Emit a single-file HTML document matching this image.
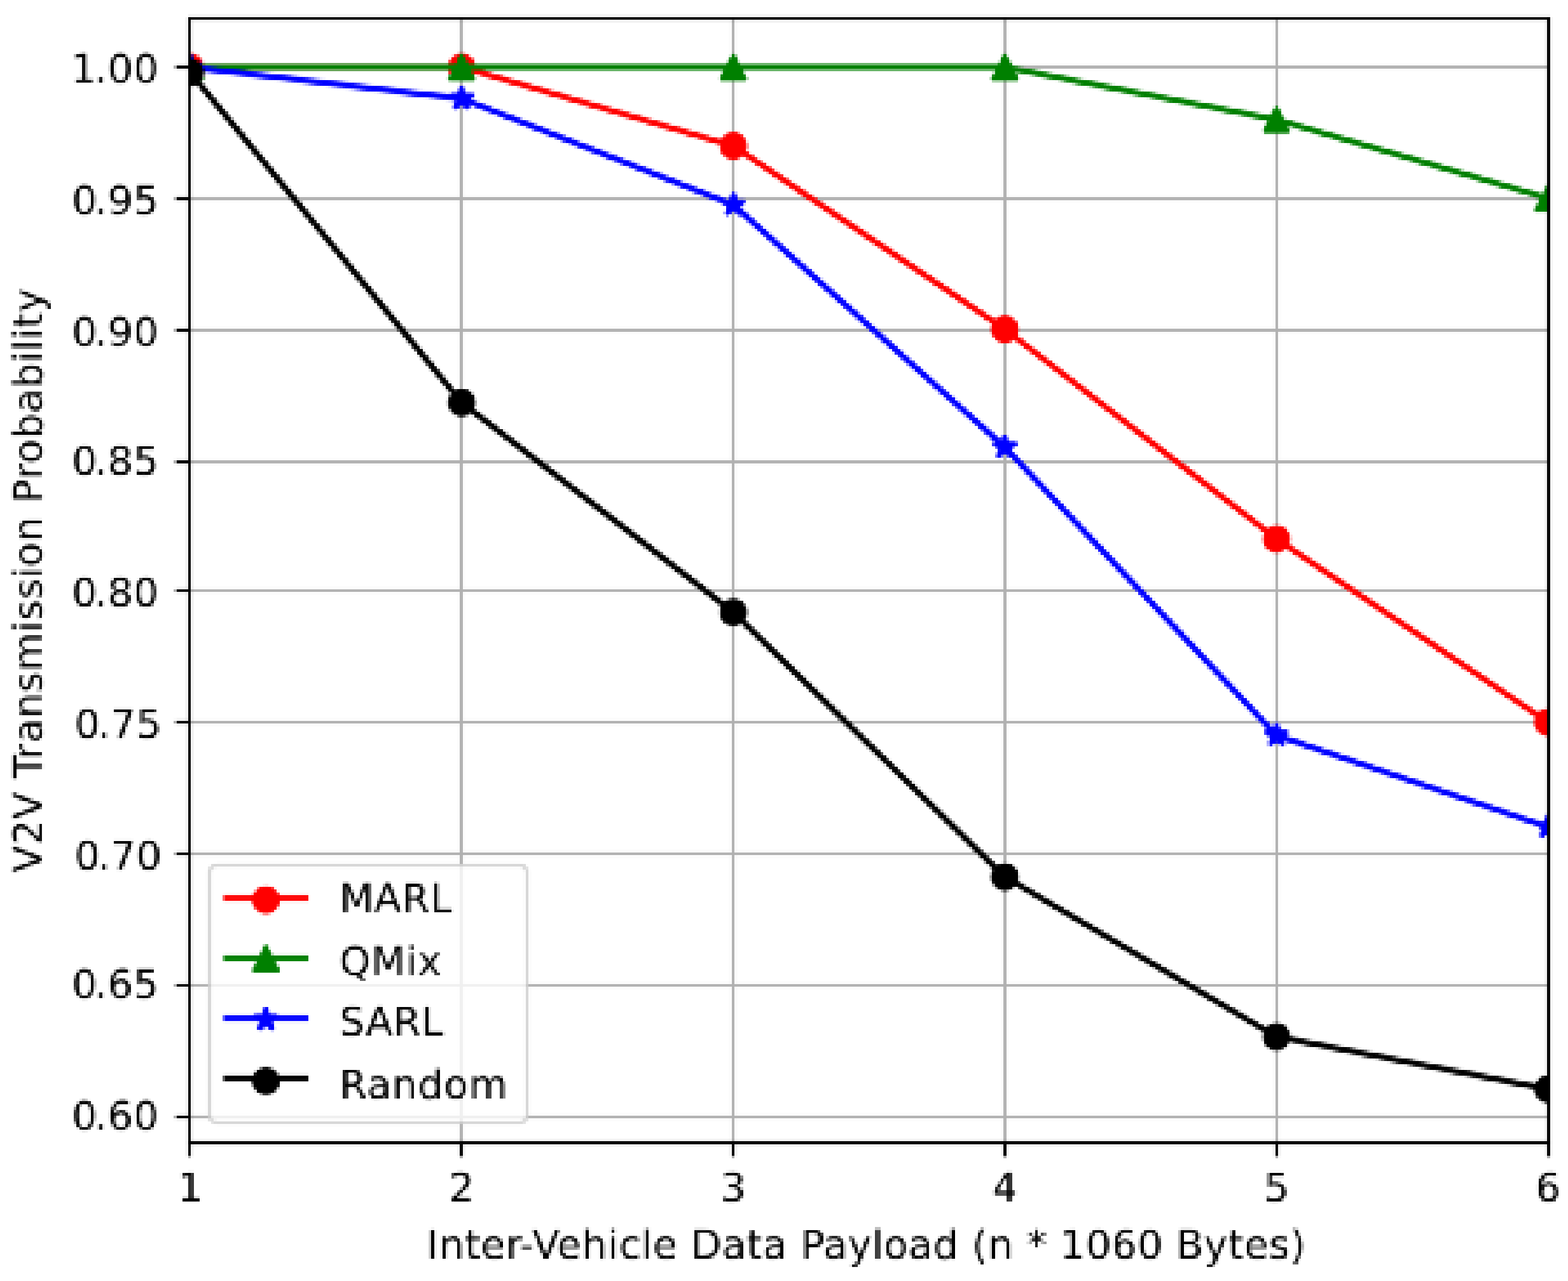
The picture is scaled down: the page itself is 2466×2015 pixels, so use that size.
<!DOCTYPE html>
<html lang="en"><head><meta charset="utf-8"><title>V2V Transmission Probability vs Inter-Vehicle Data Payload</title>
<style>
html,body{margin:0;padding:0;background:#fff;}
body{width:2466px;height:2015px;overflow:hidden;}
svg{display:block;}
text{font-family:"DejaVu Sans","Liberation Sans",sans-serif;font-size:62.5px;fill:#000;}
</style></head><body>
<svg width="2466" height="2015" viewBox="0 0 2466 2015">
<defs><clipPath id="ax"><rect x="298.0" y="29.0" width="2138.00" height="1769.00"/></clipPath>
<filter id="soft" x="-15" y="-14" width="2511" height="2060" filterUnits="userSpaceOnUse" primitiveUnits="userSpaceOnUse" color-interpolation-filters="sRGB">
<feGaussianBlur in="SourceGraphic" stdDeviation="1.3" result="b"/>
<feFlood x="-8" y="-7" width="1" height="1" flood-color="#000" flood-opacity="1" result="foo"/>
<feOffset in="foo" dx="0" dy="0" x="-15" y="-14" width="9" height="9" result="too"/>
<feTile in="too" result="doo"/>
<feComposite in="b" in2="doo" operator="in" result="soo"/>
<feMorphology in="soo" operator="dilate" radius="2" result="moo"/>
<feFlood x="-8" y="-12" width="1" height="1" flood-color="#000" flood-opacity="1" result="foe"/>
<feOffset in="foe" dx="0" dy="0" x="-15" y="-14" width="9" height="9" result="toe"/>
<feTile in="toe" result="doe"/>
<feComposite in="b" in2="doe" operator="in" result="soe"/>
<feMorphology in="soe" operator="dilate" radius="2" result="moe"/>
<feFlood x="-13" y="-7" width="1" height="1" flood-color="#000" flood-opacity="1" result="feo"/>
<feOffset in="feo" dx="0" dy="0" x="-15" y="-14" width="9" height="9" result="teo"/>
<feTile in="teo" result="deo"/>
<feComposite in="b" in2="deo" operator="in" result="seo"/>
<feMorphology in="seo" operator="dilate" radius="2" result="meo"/>
<feFlood x="-13" y="-12" width="1" height="1" flood-color="#000" flood-opacity="1" result="fee"/>
<feOffset in="fee" dx="0" dy="0" x="-15" y="-14" width="9" height="9" result="tee"/>
<feTile in="tee" result="dee"/>
<feComposite in="b" in2="dee" operator="in" result="see"/>
<feMorphology in="see" operator="dilate" radius="2" result="mee"/>
<feMerge><feMergeNode in="moo"/><feMergeNode in="moe"/><feMergeNode in="meo"/><feMergeNode in="mee"/></feMerge>
</filter></defs>
<rect width="2466" height="2015" fill="#fff"/>
<g filter="url(#soft)">
<rect x="-60" y="-60" width="2586" height="2135" fill="#fff"/>

<g stroke="#b0b0b0" stroke-width="5" clip-path="url(#ax)">
<line x1="298.00" y1="29.0" x2="298.00" y2="1798.0"/>
<line x1="726.00" y1="29.0" x2="726.00" y2="1798.0"/>
<line x1="1153.00" y1="29.0" x2="1153.00" y2="1798.0"/>
<line x1="1581.00" y1="29.0" x2="1581.00" y2="1798.0"/>
<line x1="2008.00" y1="29.0" x2="2008.00" y2="1798.0"/>
<line x1="2436.00" y1="29.0" x2="2436.00" y2="1798.0"/>
<line x1="298.0" y1="106.00" x2="2436.0" y2="106.00"/>
<line x1="298.0" y1="313.00" x2="2436.0" y2="313.00"/>
<line x1="298.0" y1="520.00" x2="2436.0" y2="520.00"/>
<line x1="298.0" y1="727.00" x2="2436.0" y2="727.00"/>
<line x1="298.0" y1="929.00" x2="2436.0" y2="929.00"/>
<line x1="298.0" y1="1136.00" x2="2436.0" y2="1136.00"/>
<line x1="298.0" y1="1343.00" x2="2436.0" y2="1343.00"/>
<line x1="298.0" y1="1550.00" x2="2436.0" y2="1550.00"/>
<line x1="298.0" y1="1757.00" x2="2436.0" y2="1757.00"/>
</g>
<g stroke="#000" stroke-width="5">
<line x1="298.00" y1="1798.0" x2="298.00" y2="1820.00"/>
<line x1="726.00" y1="1798.0" x2="726.00" y2="1820.00"/>
<line x1="1153.00" y1="1798.0" x2="1153.00" y2="1820.00"/>
<line x1="1581.00" y1="1798.0" x2="1581.00" y2="1820.00"/>
<line x1="2008.00" y1="1798.0" x2="2008.00" y2="1820.00"/>
<line x1="2436.00" y1="1798.0" x2="2436.00" y2="1820.00"/>
<line x1="276.00" y1="106.00" x2="298.0" y2="106.00"/>
<line x1="276.00" y1="313.00" x2="298.0" y2="313.00"/>
<line x1="276.00" y1="520.00" x2="298.0" y2="520.00"/>
<line x1="276.00" y1="727.00" x2="298.0" y2="727.00"/>
<line x1="276.00" y1="929.00" x2="298.0" y2="929.00"/>
<line x1="276.00" y1="1136.00" x2="298.0" y2="1136.00"/>
<line x1="276.00" y1="1343.00" x2="298.0" y2="1343.00"/>
<line x1="276.00" y1="1550.00" x2="298.0" y2="1550.00"/>
<line x1="276.00" y1="1757.00" x2="298.0" y2="1757.00"/>
</g>
<g clip-path="url(#ax)">
<polyline points="299.30,106.00 726.42,106.00 1153.54,229.65 1580.66,518.15 2007.78,847.87 2434.90,1136.38" fill="none" stroke="#ff0000" stroke-width="9.4" stroke-linejoin="round" stroke-linecap="square"/>
<circle cx="299.30" cy="106.00" r="21.88" fill="#ff0000"/>
<circle cx="726.42" cy="106.00" r="21.88" fill="#ff0000"/>
<circle cx="1153.54" cy="229.65" r="21.88" fill="#ff0000"/>
<circle cx="1580.66" cy="518.15" r="21.88" fill="#ff0000"/>
<circle cx="2007.78" cy="847.87" r="21.88" fill="#ff0000"/>
<circle cx="2434.90" cy="1136.38" r="21.88" fill="#ff0000"/>
<polyline points="299.30,106.00 726.42,106.00 1153.54,106.00 1580.66,106.00 2007.78,188.43 2434.90,312.08" fill="none" stroke="#008000" stroke-width="9.4" stroke-linejoin="round" stroke-linecap="square"/>
<polygon points="296.96,84.95 301.64,84.95 321.19,124.04 318.82,127.88 279.78,127.88 277.41,124.04" fill="#008000"/>
<polygon points="724.08,84.95 728.76,84.95 748.31,124.04 745.94,127.88 706.90,127.88 704.53,124.04" fill="#008000"/>
<polygon points="1151.20,84.95 1155.88,84.95 1175.43,124.04 1173.06,127.88 1134.02,127.88 1131.65,124.04" fill="#008000"/>
<polygon points="1578.32,84.95 1583.00,84.95 1602.55,124.04 1600.18,127.88 1561.14,127.88 1558.77,124.04" fill="#008000"/>
<polygon points="2005.44,167.38 2010.12,167.38 2029.67,206.47 2027.30,210.31 1988.26,210.31 1985.89,206.47" fill="#008000"/>
<polygon points="2432.56,291.03 2437.24,291.03 2456.79,330.12 2454.42,333.95 2415.38,333.95 2413.01,330.12" fill="#008000"/>
<polyline points="299.30,106.00 726.42,155.46 1153.54,322.38 1580.66,703.62 2007.78,1156.98 2434.90,1301.24" fill="none" stroke="#0000ff" stroke-width="9.4" stroke-linejoin="round" stroke-linecap="square"/>
<polygon points="299.30,87.25 303.51,100.21 317.13,100.21 306.11,108.21 310.32,121.17 299.30,113.16 288.28,121.17 292.49,108.21 281.47,100.21 295.09,100.21" fill="#0000ff" stroke="#0000ff" stroke-width="6.25" stroke-linejoin="bevel"/>
<polygon points="726.42,136.71 730.63,149.66 744.25,149.66 733.23,157.67 737.44,170.63 726.42,162.62 715.40,170.63 719.61,157.67 708.59,149.66 722.21,149.66" fill="#0000ff" stroke="#0000ff" stroke-width="6.25" stroke-linejoin="bevel"/>
<polygon points="1153.54,303.63 1157.75,316.58 1171.37,316.58 1160.35,324.59 1164.56,337.55 1153.54,329.54 1142.52,337.55 1146.73,324.59 1135.71,316.58 1149.33,316.58" fill="#0000ff" stroke="#0000ff" stroke-width="6.25" stroke-linejoin="bevel"/>
<polygon points="1580.66,684.87 1584.87,697.82 1598.49,697.82 1587.47,705.83 1591.68,718.79 1580.66,710.78 1569.64,718.79 1573.85,705.83 1562.83,697.82 1576.45,697.82" fill="#0000ff" stroke="#0000ff" stroke-width="6.25" stroke-linejoin="bevel"/>
<polygon points="2007.78,1138.23 2011.99,1151.19 2025.61,1151.19 2014.59,1159.20 2018.80,1172.15 2007.78,1164.14 1996.76,1172.15 2000.97,1159.20 1989.95,1151.19 2003.57,1151.19" fill="#0000ff" stroke="#0000ff" stroke-width="6.25" stroke-linejoin="bevel"/>
<polygon points="2434.90,1282.49 2439.11,1295.44 2452.73,1295.44 2441.71,1303.45 2445.92,1316.40 2434.90,1308.40 2423.88,1316.40 2428.09,1303.45 2417.07,1295.44 2430.69,1295.44" fill="#0000ff" stroke="#0000ff" stroke-width="6.25" stroke-linejoin="bevel"/>
<polyline points="299.30,114.24 726.42,633.55 1153.54,963.27 1580.66,1379.54 2007.78,1630.95 2434.90,1713.38" fill="none" stroke="#000000" stroke-width="9.4" stroke-linejoin="round" stroke-linecap="square"/>
<circle cx="299.30" cy="114.24" r="21.88" fill="#000000"/>
<circle cx="726.42" cy="633.55" r="21.88" fill="#000000"/>
<circle cx="1153.54" cy="963.27" r="21.88" fill="#000000"/>
<circle cx="1580.66" cy="1379.54" r="21.88" fill="#000000"/>
<circle cx="2007.78" cy="1630.95" r="21.88" fill="#000000"/>
<circle cx="2434.90" cy="1713.38" r="21.88" fill="#000000"/>
</g>
<rect x="298.0" y="29.0" width="2138.00" height="1769.00" fill="none" stroke="#000" stroke-width="5.0"/>
<text x="299.30" y="1890.0" text-anchor="middle">1</text>
<text x="726.40" y="1890.0" text-anchor="middle">2</text>
<text x="1153.50" y="1890.0" text-anchor="middle">3</text>
<text x="1580.70" y="1890.0" text-anchor="middle">4</text>
<text x="2007.80" y="1890.0" text-anchor="middle">5</text>
<text x="2434.90" y="1890.0" text-anchor="middle">6</text>
<text x="112.0 149.0 169.5 210.0" y="130.0">1.00</text>
<text x="113.3 149.0 169.5 210.0" y="337.0">0.95</text>
<text x="113.3 149.0 169.5 210.0" y="544.0">0.90</text>
<text x="113.3 149.0 169.5 210.0" y="747.0">0.85</text>
<text x="113.3 149.0 169.5 210.0" y="954.0">0.80</text>
<text x="117.7 153.4 173.9 214.4" y="1161.0">0.75</text>
<text x="117.7 153.4 173.9 214.4" y="1368.0">0.70</text>
<text x="113.3 149.0 169.5 210.0" y="1570.0">0.65</text>
<text x="113.3 149.0 169.5 210.0" y="1777.0">0.60</text>
<text x="671.5" y="1980.0" textLength="1382" lengthAdjust="spacing">Inter-Vehicle Data Payload (n * 1060 Bytes)</text>
<text transform="translate(66.0,1373) rotate(-90)" x="0" y="0" textLength="919" lengthAdjust="spacing">V2V Transmission Probability</text>
<path d="M342.50,1361.0 L816.50,1361.0 Q829.0,1361.0 829.0,1373.50 L829.0,1753.50 Q829.0,1766.0 816.50,1766.0 L342.50,1766.0 Q330.0,1766.0 330.0,1753.50 L330.0,1373.50 Q330.0,1361.0 342.50,1361.0 Z" fill="#fff" fill-opacity="0.8" stroke="#ccc" stroke-opacity="0.8" stroke-width="5.6"/>
<line x1="356.6" y1="1413.0" x2="480.4" y2="1413.0" stroke="#ff0000" stroke-width="9.0" stroke-linecap="square"/>
<circle cx="418.50" cy="1415.70" r="21.88" fill="#ff0000"/>
<text x="533.9" y="1435.0" style="letter-spacing:0.8px">MARL</text>
<line x1="356.6" y1="1507.0" x2="480.4" y2="1507.0" stroke="#008000" stroke-width="9.0" stroke-linecap="square"/>
<polygon points="416.16,1486.95 420.84,1486.95 440.39,1526.04 438.02,1529.88 398.98,1529.88 396.61,1526.04" fill="#008000"/>
<text x="533.9" y="1534.0" style="letter-spacing:1.0px">QMix</text>
<line x1="356.6" y1="1602.0" x2="480.4" y2="1602.0" stroke="#0000ff" stroke-width="9.0" stroke-linecap="square"/>
<polygon points="418.50,1585.45 422.71,1598.41 436.33,1598.41 425.31,1606.41 429.52,1619.37 418.50,1611.36 407.48,1619.37 411.69,1606.41 400.67,1598.41 414.29,1598.41" fill="#0000ff" stroke="#0000ff" stroke-width="6.25" stroke-linejoin="bevel"/>
<text x="533.9" y="1629.0" style="letter-spacing:0.6px">SARL</text>
<line x1="356.6" y1="1696.0" x2="480.4" y2="1696.0" stroke="#000000" stroke-width="9.0" stroke-linecap="square"/>
<circle cx="418.50" cy="1700.70" r="21.88" fill="#000000"/>
<text x="533.9" y="1728.0" style="letter-spacing:1.2px">Random</text>
</g>
</svg>
</body></html>
